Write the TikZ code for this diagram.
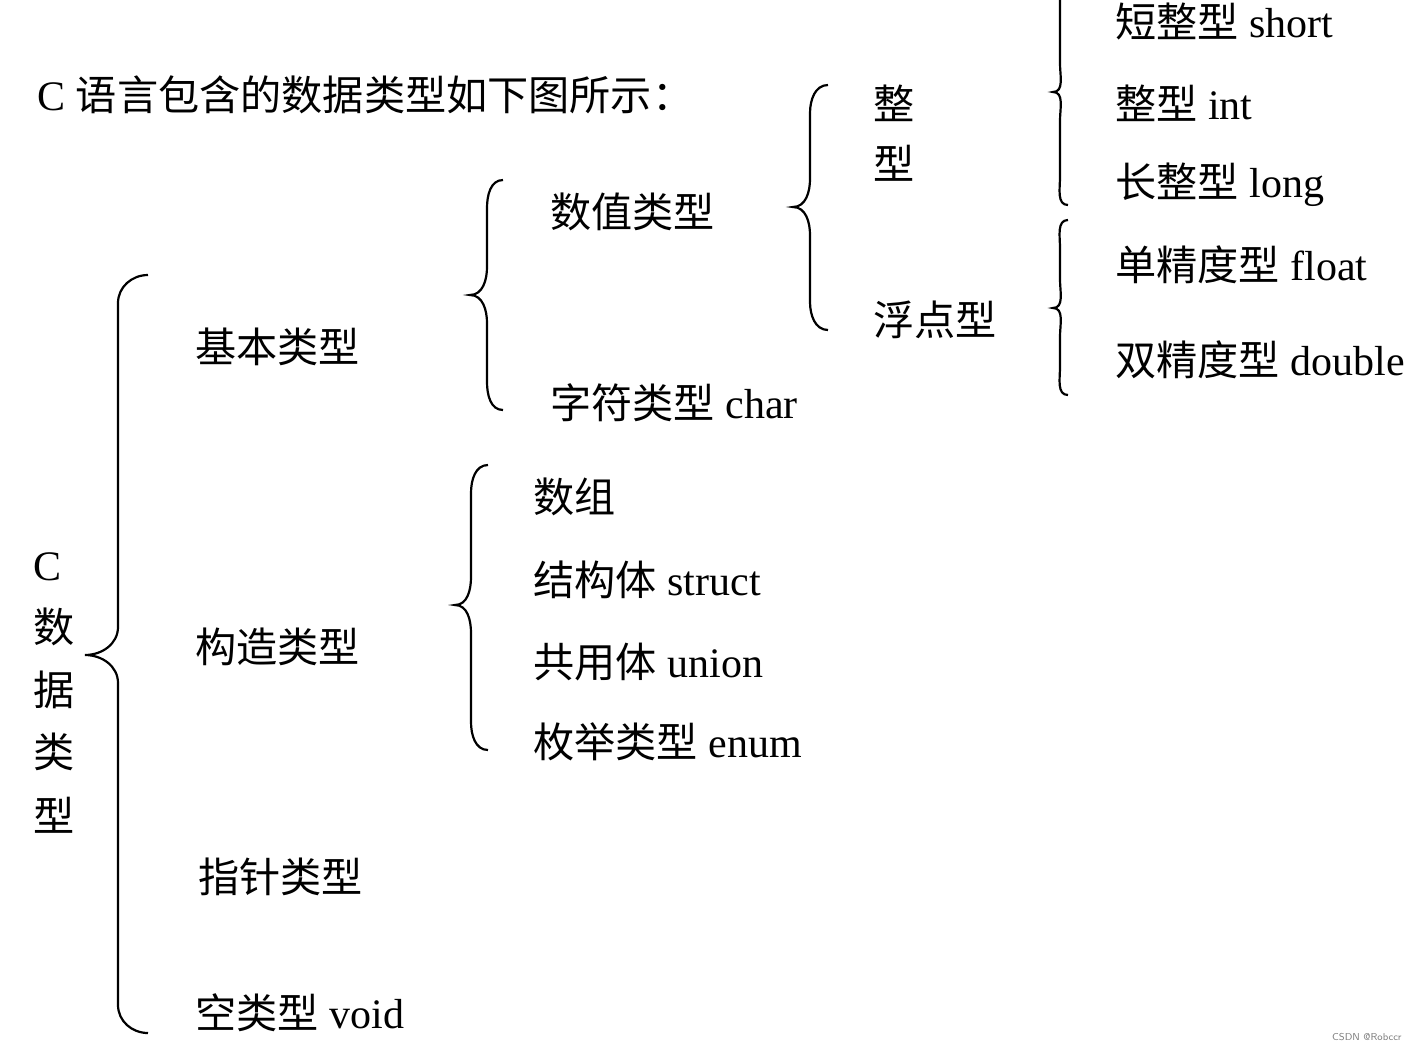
\documentclass[tikz,border=0pt]{standalone}
\usepackage{fontspec}
\setmainfont{Liberation Serif}
\newfontfamily\cjk{Noto Sans CJK SC}[Scale=0.98]
\newcommand{\zh}[1]{{\cjk #1}}
\newcommand{\mybrace}[6]{% xt,yt,x,xp,ym,yb
  \draw[br] (#1,#2) to[out=180,in=90] (#3,#2+28) -- (#3,#5-28) to[out=-90,in=0] (#4,#5)
    to[out=0,in=90] (#3,#5+28) -- (#3,#6-28) to[out=-90,in=180] (#1,#6);}
\begin{document}
\begin{tikzpicture}[x=0.5pt,y=-0.5pt,
  lbl/.style={anchor=west,inner sep=0pt,font=\fontsize{21}{24}\selectfont},
  br/.style={line width=1.1pt}]
\useasboundingbox (0,0) rectangle (1416,1051);
\begin{scope}
\clip (0,0) rectangle (1416,1051);
\mybrace{148}{275}{118}{85}{655}{1033}
\mybrace{503}{180}{487}{470}{295}{410}
\mybrace{488}{465}{471}{455}{605}{750}
\mybrace{828}{85}{810}{793}{207}{330}
\mybrace{1068}{-25}{1060}{1053}{92}{205}
\mybrace{1068}{220}{1060}{1053}{308}{395}
\end{scope}
\node[lbl] (title) at (37,95) {C \zh{语言包含的数据类型如下图所示：}};
\node[lbl] (c) at (33,567) {C};
\node[lbl] (v1) at (33,627) {\zh{数}};
\node[lbl] (v2) at (33,690) {\zh{据}};
\node[lbl] (v3) at (33,752) {\zh{类}};
\node[lbl] (v4) at (33,815) {\zh{型}};
\node[lbl] (jb) at (195,347) {\zh{基本类型}};
\node[lbl] (gz) at (195,647) {\zh{构造类型}};
\node[lbl] (zz) at (198,877) {\zh{指针类型}};
\node[lbl] (kl) at (195,1013) {\zh{空类型} void};
\node[lbl] (sz) at (550,212) {\zh{数值类型}};
\node[lbl] (zf) at (550,403) {\zh{字符类型} char};
\node[lbl] (a1) at (533,497) {\zh{数组}};
\node[lbl] (a2) at (533,580) {\zh{结构体} struct};
\node[lbl] (a3) at (533,662) {\zh{共用体} union};
\node[lbl] (a4) at (533,742) {\zh{枚举类型} enum};
\node[lbl] (zx1) at (873,103) {\zh{整}};
\node[lbl] (zx2) at (873,163) {\zh{型}};
\node[lbl] (fd) at (873,320) {\zh{浮点型}};
\node[lbl] (b1) at (1115,22) {\zh{短整型} short};
\node[lbl] (b2) at (1115,103) {\zh{整型} int};
\node[lbl] (b3) at (1115,185) {\zh{长整型} long};
\node[lbl] (b4) at (1115,265) {\zh{单精度型} float};
\node[lbl] (b5) at (1115,360) {\zh{双精度型} double};
\node[anchor=east,inner sep=0pt,font=\fontsize{5}{6}\sffamily,text=gray] (wm) at (1402,1037) {CSDN @Robccr};
\end{tikzpicture}
\end{document}
